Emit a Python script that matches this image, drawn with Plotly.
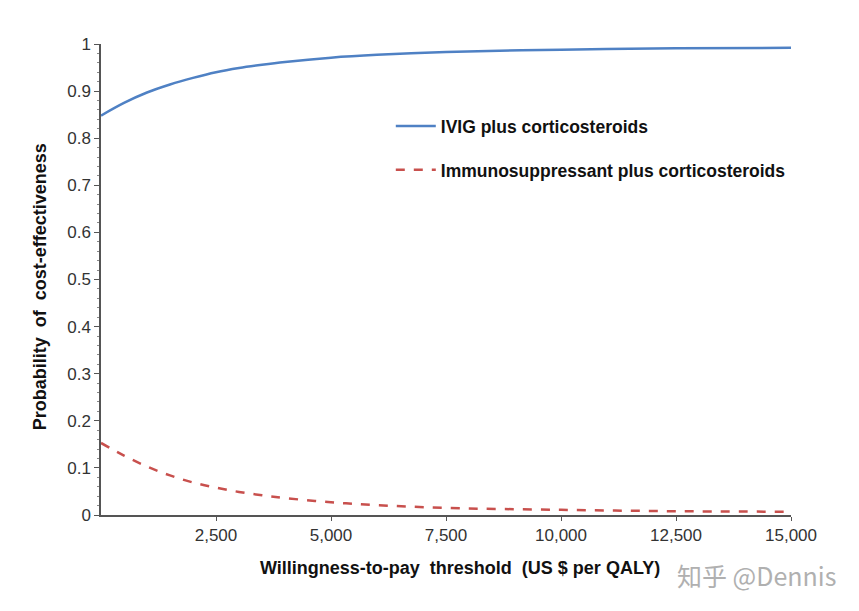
import plotly.graph_objects as go

wtp = [0, 500, 1000, 1500, 2000, 2500, 3000, 3500, 4000, 5000, 6000, 7500, 10000, 12500, 15000]
ivig = [0.848, 0.875, 0.897, 0.914, 0.928, 0.940, 0.949, 0.956, 0.962, 0.971, 0.977, 0.983, 0.988, 0.991, 0.992]
immuno = [0.153, 0.126, 0.103, 0.084, 0.069, 0.058, 0.049, 0.042, 0.036, 0.027, 0.021, 0.015, 0.011, 0.008, 0.007]

x_ticks = [2500, 5000, 7500, 10000, 12500, 15000]
x_labels = ["2,500", "5,000", "7,500", "10,000", "12,500", "15,000"]
y_ticks = [0, 0.1, 0.2, 0.3, 0.4, 0.5, 0.6, 0.7, 0.8, 0.9, 1]
y_labels = ["0", "0.1", "0.2", "0.3", "0.4", "0.5", "0.6", "0.7", "0.8", "0.9", "1"]

x_title = "Willingness-to-pay&nbsp; threshold&nbsp; (US $ per QALY)"
y_title = "Probability&nbsp; of&nbsp; cost-effectiveness"

FAM = "Liberation Sans, Arial, sans-serif"

fig = go.Figure()
fig.add_trace(go.Scatter(
    x=wtp, y=ivig, mode="lines", name="IVIG plus corticosteroids",
    line=dict(color="#4F81C4", width=2.5, shape="spline", smoothing=1.0), legendgroup="a"))
fig.add_trace(go.Scatter(
    x=wtp, y=immuno, mode="lines", name="Immunosuppressant plus corticosteroids",
    line=dict(color="#C8504D", width=2.5, dash="dash", shape="spline", smoothing=1.0), legendgroup="b"))

fig.update_layout(
    width=851, height=603,
    margin=dict(l=93, r=68, t=36, b=96, autoexpand=False),
    paper_bgcolor="white", plot_bgcolor="white",
    font=dict(family=FAM, size=16, color="#333333"),
    showlegend=True,
    legend=dict(x=0.42, y=0.864, xanchor="left", yanchor="top",
                font=dict(family=FAM, size=17.5, color="#111111", weight="bold"),
                tracegroupgap=18, bgcolor="rgba(0,0,0,0)", itemwidth=40),
    xaxis=dict(range=[0, 15000], tickvals=x_ticks, ticktext=x_labels,
               showgrid=False, zeroline=False, showline=True, linecolor="#555555", linewidth=1.5,
               ticks="outside", ticklen=4, tickcolor="#555555",
               tickfont=dict(family=FAM, size=17, color="#333333")),
    yaxis=dict(range=[0, 1.0], tickvals=y_ticks, ticktext=y_labels,
               showgrid=False, zeroline=False, showline=True, linecolor="#555555", linewidth=1.5,
               ticks="outside", ticklen=5, tickcolor="#555555",
               minor=dict(ticks="outside", ticklen=2, tickcolor="#888888", dtick=0.02),
               tickfont=dict(family=FAM, size=17, color="#333333")),
)

fig.add_annotation(text=x_title, xref="paper", yref="paper", x=0.52, y=0,
                   xanchor="center", yanchor="middle", yshift=-53, showarrow=False,
                   font=dict(family=FAM, size=18, color="#111111", weight="bold"))
fig.add_annotation(text=y_title, xref="paper", yref="paper", x=-0.088, y=0.484,
                   xanchor="center", yanchor="middle", textangle=-90, showarrow=False,
                   font=dict(family=FAM, size=18, color="#111111", weight="bold"))

fig.add_annotation(text="知乎 @Dennis", xref="paper", yref="paper", x=1.068, y=-0.127,
                   xanchor="right", yanchor="middle", showarrow=False,
                   font=dict(family="Noto Sans CJK SC, sans-serif", size=25, color="#b0b0b0", weight="normal"))

fig.write_html("out.html")
